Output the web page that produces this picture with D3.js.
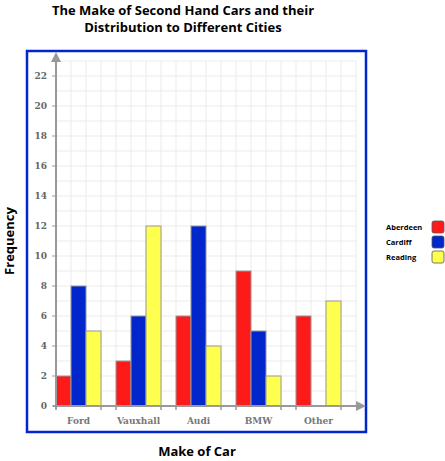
<!DOCTYPE html>
<html><head><meta charset="utf-8">
<script src="https://cdn.jsdelivr.net/npm/d3@7.9.0/dist/d3.min.js"></script>
<style>body{margin:0;background:#fff}</style>
</head><body><svg id="c" width="445" height="461"></svg>
<script>
const makes = ['Ford', 'Vauxhall', 'Audi', 'BMW', 'Other'];
const cities = ['Aberdeen', 'Cardiff', 'Reading'];
const aberdeen = [2, 3, 6, 9, 6];
const cardiff = [8, 6, 12, 5, 0];
const reading = [5, 12, 4, 2, 7];
const colors = ['#ff1a1a', '#0026cc', '#ffff4d'];
const yTicks = d3.range(0, 23, 2);

const series = [aberdeen, cardiff, reading];
const svg = d3.select('#c');
const x0 = 56, x1 = 356, yBase = 406;

const y = d3.scaleLinear().domain([0, 22]).range([yBase, 76]);
const xg = d3.scaleBand().domain(makes).range([x0, x1]).paddingInner(0.25).paddingOuter(0).align(0);
// groups start at x0 + i*60, each 45 wide
const xb = d3.scaleBand().domain(cities).range([0, 45]);

// frame
svg.append('rect').attr('x', 27).attr('y', 51).attr('width', 339).attr('height', 381)
  .attr('fill', 'none').attr('stroke', '#0026cc').attr('stroke-width', 2.5);

// grid
const g = svg.append('g').attr('stroke', '#ebebeb').attr('stroke-width', 1);
d3.range(1, 24).forEach(v => g.append('line').attr('x1', x0).attr('x2', x1).attr('y1', y(v)).attr('y2', y(v)));
d3.range(1, 21).forEach(i => g.append('line').attr('x1', x0 + i * 15).attr('x2', x0 + i * 15).attr('y1', y(23)).attr('y2', yBase));

// bars
makes.forEach((m, i) => {
  const gx = x0 + i * 60;
  cities.forEach((c, j) => {
    const v = series[j][i];
    if (!v) return;
    svg.append('rect').attr('x', gx + xb(c)).attr('y', y(v)).attr('width', xb.bandwidth())
      .attr('height', yBase - y(v)).attr('fill', colors[j]).attr('stroke', '#999').attr('stroke-width', 1);
  });
});

// axes
const axc = '#999';
svg.append('line').attr('x1', x0).attr('x2', x0).attr('y1', yBase + 3).attr('y2', 62).attr('stroke', axc).attr('stroke-width', 2);
svg.append('path').attr('d', `M${x0 - 5},62 L${x0 + 5},62 L${x0},52 Z`).attr('fill', axc);
svg.append('line').attr('x1', x0 - 3).attr('x2', 356).attr('y1', yBase).attr('y2', yBase).attr('stroke', axc).attr('stroke-width', 2);
svg.append('path').attr('d', `M356,${yBase - 5} L356,${yBase + 5} L366,${yBase} Z`).attr('fill', axc);

const tf = 'DejaVu Serif, serif';
yTicks.forEach(v => {
  svg.append('line').attr('x1', x0 - 4).attr('x2', x0).attr('y1', y(v)).attr('y2', y(v)).attr('stroke', axc);
  svg.append('text').attr('x', x0 - 9).attr('y', y(v) + 3).attr('text-anchor', 'end')
    .attr('font-family', tf).attr('font-size', 9).attr('font-weight', 'bold').attr('fill', '#666').text(v);
});
makes.forEach((m, i) => {
  const gx = x0 + i * 60;
  [gx, gx + 45].forEach(t => svg.append('line').attr('x1', t).attr('x2', t).attr('y1', yBase).attr('y2', yBase + 4).attr('stroke', axc).attr('stroke-width', 1.5));
  svg.append('text').attr('x', gx + 22.5).attr('y', yBase + 18).attr('text-anchor', 'middle')
    .attr('font-family', tf).attr('font-size', 9).attr('font-weight', 'bold').attr('fill', '#777').text(m);
});

// titles
const hf = 'Open Sans, sans-serif';
svg.append('text').attr('x', 183).attr('y', 15).attr('text-anchor', 'middle').attr('font-family', hf)
  .attr('font-size', 13).attr('font-weight', 'bold').text('The Make of Second Hand Cars and their');
svg.append('text').attr('x', 183).attr('y', 32).attr('text-anchor', 'middle').attr('font-family', hf)
  .attr('font-size', 13).attr('font-weight', 'bold').text('Distribution to Different Cities');
svg.append('text').attr('x', 197).attr('y', 456).attr('text-anchor', 'middle').attr('font-family', hf)
  .attr('font-size', 13).attr('font-weight', 'bold').text('Make of Car');
svg.append('text').attr('transform', 'translate(14,241) rotate(-90)').attr('text-anchor', 'middle').attr('font-family', hf)
  .attr('font-size', 13).attr('font-weight', 'bold').text('Frequency');

// legend
cities.forEach((c, j) => {
  const ly = 227 + j * 15;
  svg.append('text').attr('x', 386).attr('y', ly + 3).attr('font-family', hf).attr('font-size', 7.5)
    .attr('font-weight', 'bold').text(c);
  svg.append('rect').attr('x', 432).attr('y', ly - 6).attr('width', 12).attr('height', 12).attr('rx', 2)
    .attr('fill', colors[j]).attr('stroke', '#555').attr('stroke-width', 0.8);
});
</script></body></html>
